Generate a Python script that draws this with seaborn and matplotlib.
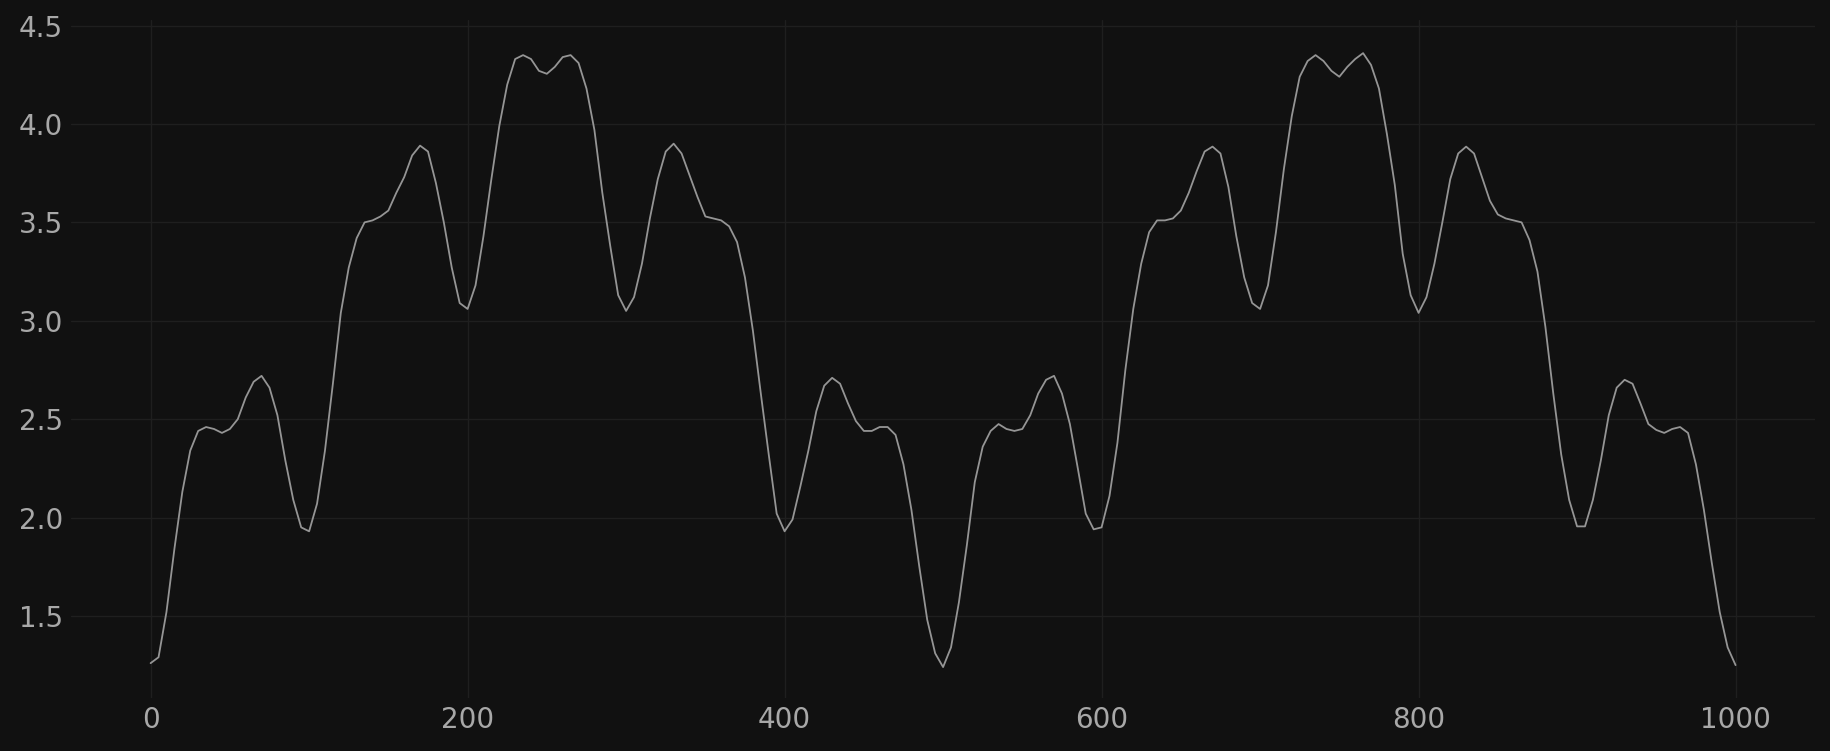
import numpy as np
import pandas as pd
import seaborn as sns
import matplotlib.pyplot as plt

# valores, cada 5 pasos
pasos = np.arange(0, 1001, 5)
valores = [
    1.26, 1.29, 1.52, 1.84, 2.13, 2.34, 2.44, 2.46, 2.45, 2.43,
    2.45, 2.50, 2.61, 2.69, 2.72, 2.66, 2.52, 2.29, 2.09, 1.95,
    1.93, 2.07, 2.34, 2.68, 3.04, 3.27, 3.42, 3.50, 3.51, 3.53,
    3.56, 3.65, 3.73, 3.84, 3.89, 3.86, 3.70, 3.50, 3.27, 3.09,
    3.06, 3.18, 3.43, 3.72, 3.99, 4.20, 4.33, 4.35, 4.33, 4.27,
    4.255, 4.29, 4.34, 4.35, 4.31, 4.18, 3.97, 3.65, 3.38, 3.13,
    3.05, 3.12, 3.29, 3.52, 3.72, 3.86, 3.90, 3.85, 3.74, 3.63,
    3.53, 3.52, 3.51, 3.48, 3.40, 3.22, 2.95, 2.63, 2.32, 2.02,
    1.93, 1.99, 2.16, 2.34, 2.54, 2.67, 2.71, 2.68, 2.58, 2.49,
    2.44, 2.44, 2.46, 2.46, 2.42, 2.27, 2.04, 1.75, 1.48, 1.31,
    1.24, 1.34, 1.57, 1.86, 2.18, 2.36, 2.44, 2.475, 2.45, 2.44,
    2.45, 2.52, 2.63, 2.70, 2.72, 2.63, 2.475, 2.25, 2.02, 1.94,
    1.95, 2.11, 2.38, 2.75, 3.06, 3.29, 3.45, 3.51, 3.51, 3.52,
    3.56, 3.65, 3.76, 3.86, 3.885, 3.85, 3.68, 3.43, 3.22, 3.09,
    3.06, 3.18, 3.45, 3.77, 4.04, 4.24, 4.32, 4.35, 4.32, 4.27,
    4.24, 4.29, 4.33, 4.36, 4.30, 4.18, 3.95, 3.69, 3.34, 3.13,
    3.04, 3.12, 3.29, 3.50, 3.72, 3.85, 3.885, 3.85, 3.73, 3.61,
    3.54, 3.52, 3.51, 3.50, 3.41, 3.25, 2.97, 2.63, 2.32, 2.09,
    1.955, 1.955, 2.09, 2.29, 2.52, 2.66, 2.70, 2.68, 2.58, 2.475,
    2.445, 2.43, 2.45, 2.46, 2.43, 2.27, 2.04, 1.77, 1.52, 1.34,
    1.25,
]
yticks = [1.5, 2.0, 2.5, 3.0, 3.5, 4.0, 4.5]
xticks = [0, 200, 400, 600, 800, 1000]

df = pd.DataFrame({"x": pasos, "y": valores})

fondo = "#111111"
sns.set_theme(style="dark", rc={
    "figure.facecolor": fondo,
    "axes.facecolor": fondo,
    "axes.edgecolor": fondo,
    "grid.color": "#1f1f1f",
    "axes.grid": True,
    "xtick.color": "#a8a8a8",
    "ytick.color": "#a8a8a8",
})
plt.rcParams["font.family"] = ["DejaVu Sans"]

fig = plt.figure(figsize=(18.3, 7.51), dpi=100)
ax = fig.add_axes([0.039, 0.0706, 0.9527, 0.9024])
sns.lineplot(data=df, x="x", y="y", ax=ax, color="#959595", linewidth=1.3)

ax.set_xlim(-50, 1050)
ax.set_ylim(1.083, 4.527)
ax.set_xticks(xticks)
ax.set_yticks(yticks)
ax.set_yticklabels([f"{v:.1f}" for v in yticks])
ax.set_xlabel("")
ax.set_ylabel("")
ax.tick_params(length=0, labelsize=20, pad=6)
ax.grid(True, color="#1f1f1f", linewidth=1)
for s in ax.spines.values():
    s.set_visible(False)

fig.savefig("out.png", dpi=100, facecolor=fondo)
